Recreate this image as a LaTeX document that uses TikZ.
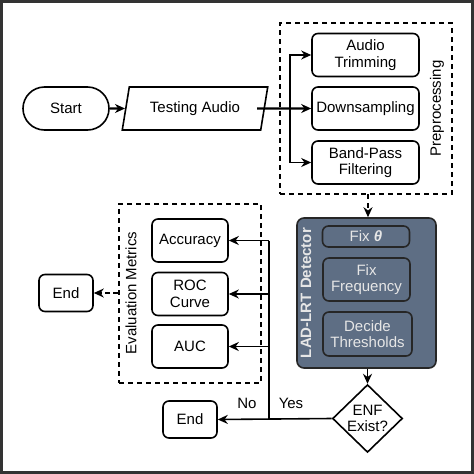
\documentclass[tikz,border=0pt]{standalone}
\usepackage{fontspec}
\setmainfont{Liberation Sans}
\usetikzlibrary{shapes.geometric,arrows.meta,calc}
\definecolor{slate}{HTML}{5E6E84}
\definecolor{lighttxt}{HTML}{E6E6E6}
\begin{document}
\begin{tikzpicture}[x=1pt,y=-1pt,
  every node/.style={font=\fontsize{15}{16.5}\selectfont, align=center},
  box/.style={draw, line width=1.6pt, rounded corners=6pt, minimum width=#1, minimum height=43pt, inner sep=0pt},
  box/.default=107pt,
  ibox/.style={draw=black!85, line width=1.6pt, fill=slate, text=lighttxt, rounded corners=6pt, inner sep=0pt},
  grp/.style={draw, dashed, line width=1.6pt, dash pattern=on 5pt off 4pt},
  arr/.style={-{Stealth[length=10pt,width=9pt]}, line width=1.6pt},
  thickarr/.style={-{Stealth[length=10pt,width=9pt]}, line width=2.3pt},
  ln/.style={line width=1.6pt}
]
\useasboundingbox (0,0) rectangle (474,474);
\draw[line width=3pt, draw=black!80] (1.5,1.5) rectangle (472.5,472.5);

% groups
\node[grp, minimum width=172pt, minimum height=171pt] (pre) at (366,108.5) {};
\node[rotate=90] (pretxt) at (437,108.5) {Preprocessing};
\node[grp, minimum width=142pt, minimum height=179pt] (eval) at (190,293.5) {};
\node[rotate=90] (evaltxt) at (131,293) {Evaluation Metrics};

% top row
\node[draw, line width=1.6pt, rounded corners=21.5pt, minimum width=86pt, minimum height=43pt, inner sep=0pt] (start) at (66,108.5) {Start};
\node[draw, line width=1.6pt, trapezium, trapezium left angle=71, trapezium right angle=109, trapezium stretches=true, minimum width=146pt, minimum height=43pt, inner sep=0pt] (ta) at (195,108.5) {Testing Audio};

\node[box] (trim) at (365.5,55) {Audio\\Trimming};
\node[box] (down) at (365.5,108.5) {Downsampling};
\node[box] (band) at (365.5,162.5) {Band-Pass\\Filtering};

% detector
\node[draw=black!85, line width=1.6pt, fill=slate, rounded corners=7pt, minimum width=139pt, minimum height=150pt, inner sep=0pt] (lad) at (366.5,293) {};
\node[rotate=90, text=lighttxt, font=\fontsize{15}{16.5}\selectfont\bfseries] (ladtxt) at (306,293) {LAD-LRT Detector};
\node[ibox, minimum width=87pt, minimum height=21pt] (fix) at (366,236.5) {Fix \textbf{\textit{θ}}};
\node[ibox, minimum width=87pt, minimum height=43pt] (freq) at (366.5,279.5) {Fix\\Frequency};
\node[ibox, minimum width=89pt, minimum height=44pt] (dec) at (367.5,334) {Decide\\Thresholds};

\node[draw, line width=1.6pt, diamond, minimum width=70pt, minimum height=63pt, inner sep=0pt] (enf) at (367.5,418.5) {ENF\\Exist?};

% metrics
\node[box=76pt] (acc) at (190,240.5) {Accuracy};
\node[box=76pt] (roc) at (190,294) {ROC\\Curve};
\node[box=76pt] (auc) at (190,346.5) {AUC};

\node[box=54pt, minimum height=37pt] (end1) at (66,293) {End};
\node[box=54pt, minimum height=37pt] (end2) at (190,419.5) {End};

% connectors
\draw[thickarr] (start.east) -- (ta.west);
\coordinate (split) at (290,108.5);
\draw[thickarr] ($(ta.east)+(-8,0)$) -- (down.west);
\draw[arr] (split) |- (trim.west);
\draw[arr] (split) |- (band.west);
\draw[arr, dashed, dash pattern=on 5pt off 4pt] (368,194) -- (lad.north -| 368,194);
\draw[arr] (lad.south -| enf.north) -- (enf.north);
\coordinate (j) at (269,418.5);
\draw[arr] (enf.west) -- (end2.east);
\draw[ln] (j) -- (269,240.5);
\draw[arr] (269,240.5) -- (acc.east);
\draw[arr] (269,294) -- (roc.east);
\draw[arr] (269,346.5) -- (auc.east);
\draw[arr, dashed, dash pattern=on 5pt off 3pt] (eval.west |- end1) -- (end1.east);

\node (no) at (247,403) {No};
\node (yes) at (291,403) {Yes};
\end{tikzpicture}
\end{document}
